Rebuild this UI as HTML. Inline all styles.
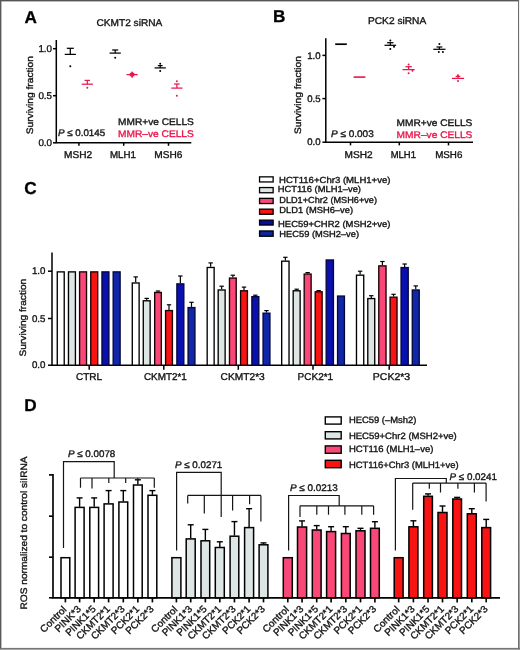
<!DOCTYPE html>
<html lang="en">
<head>
<meta charset="utf-8">
<title>Figure</title>
<style>
html,body{margin:0;padding:0;background:#fff;}
body{width:520px;height:650px;overflow:hidden;}
svg{display:block;}
svg text{font-family:"Liberation Sans", sans-serif;text-rendering:geometricPrecision;}
</style>
</head>
<body>
<svg width="520" height="650" viewBox="0 0 520 650">
<rect x="0" y="0" width="520" height="650" fill="#fff"/>
<text x="24.4" y="22.7" font-size="17.2" fill="#000" font-weight="bold" stroke="#000" stroke-width="0.3">A</text>
<text x="273.0" y="22.4" font-size="17.2" fill="#000" font-weight="bold" stroke="#000" stroke-width="0.3">B</text>
<text x="24.2" y="194.4" font-size="17.2" fill="#000" font-weight="bold" stroke="#000" stroke-width="0.3">C</text>
<text x="24.2" y="410.6" font-size="17.2" fill="#000" font-weight="bold" stroke="#000" stroke-width="0.3">D</text>
<text x="96.5" y="26.2" font-size="9.8" fill="#141414" stroke="#141414" stroke-width="0.35" textLength="65.8" lengthAdjust="spacingAndGlyphs">CKMT2 siRNA</text>
<path d="M56.3,40 V142.8 H191.3" stroke="#000" stroke-width="1.5" fill="none"/>
<line x1="53" y1="48.7" x2="56.3" y2="48.7" stroke="#000" stroke-width="1.5"/>
<line x1="53" y1="95.7" x2="56.3" y2="95.7" stroke="#000" stroke-width="1.5"/>
<line x1="53" y1="142.8" x2="56.3" y2="142.8" stroke="#000" stroke-width="1.5"/>
<line x1="78.9" y1="142.8" x2="78.9" y2="145.8" stroke="#000" stroke-width="1.5"/>
<line x1="123.7" y1="142.8" x2="123.7" y2="145.8" stroke="#000" stroke-width="1.5"/>
<line x1="168.5" y1="142.8" x2="168.5" y2="145.8" stroke="#000" stroke-width="1.5"/>
<text x="52" y="52" font-size="9.8" text-anchor="end" fill="#141414" stroke="#141414" stroke-width="0.35">1.0</text>
<text x="52" y="99" font-size="9.8" text-anchor="end" fill="#141414" stroke="#141414" stroke-width="0.35">0.5</text>
<text x="52" y="145.7" font-size="9.8" text-anchor="end" fill="#141414" stroke="#141414" stroke-width="0.35">0.0</text>
<text x="33.4" y="95.2" font-size="9.4" text-anchor="middle" fill="#141414" stroke="#141414" stroke-width="0.35" textLength="78.2" lengthAdjust="spacingAndGlyphs" transform="rotate(-90 33.4 95.2)">Surviving fraction</text>
<text x="64.1" y="158.1" font-size="9.9" fill="#141414" stroke="#141414" stroke-width="0.35" textLength="28.1" lengthAdjust="spacingAndGlyphs">MSH2</text>
<text x="109.9" y="158.1" font-size="9.9" fill="#141414" stroke="#141414" stroke-width="0.35" textLength="26.0" lengthAdjust="spacingAndGlyphs">MLH1</text>
<text x="154.3" y="158.1" font-size="9.9" fill="#141414" stroke="#141414" stroke-width="0.35" textLength="28.1" lengthAdjust="spacingAndGlyphs">MSH6</text>
<text x="57.9" y="136.4" font-size="9.6" textLength="47.3" lengthAdjust="spacingAndGlyphs" fill="#141414" stroke="#141414" stroke-width="0.35"><tspan font-style="italic">P</tspan> ≤ 0.0145</text>
<text x="118.0" y="124.6" font-size="9.6" fill="#141414" stroke="#141414" stroke-width="0.35" textLength="75.8" lengthAdjust="spacingAndGlyphs">MMR+ve CELLS</text>
<text x="118.0" y="136.6" font-size="9.6" fill="#e8174b" stroke="#e8174b" stroke-width="0.35" textLength="75.8" lengthAdjust="spacingAndGlyphs">MMR–ve CELLS</text>
<line x1="64.7" y1="54.4" x2="75.89999999999999" y2="54.4" stroke="#000" stroke-width="1.25"/>
<line x1="66.8" y1="48.3" x2="73.8" y2="48.3" stroke="#000" stroke-width="1.25"/>
<line x1="70.3" y1="48.3" x2="70.3" y2="54.4" stroke="#000" stroke-width="1.25"/>
<circle cx="70.3" cy="66.2" r="1.0" fill="#000"/>
<line x1="81.7" y1="84.2" x2="92.89999999999999" y2="84.2" stroke="#e8174b" stroke-width="1.25"/>
<line x1="84.6" y1="80.4" x2="90.0" y2="80.4" stroke="#e8174b" stroke-width="1.25"/>
<line x1="87.3" y1="80.4" x2="87.3" y2="84.2" stroke="#e8174b" stroke-width="1.25"/>
<circle cx="87.3" cy="87.7" r="1.0" fill="#e8174b"/>
<line x1="109.60000000000001" y1="53.1" x2="120.8" y2="53.1" stroke="#000" stroke-width="1.25"/>
<line x1="112.2" y1="50.0" x2="118.2" y2="50.0" stroke="#000" stroke-width="1.25"/>
<line x1="115.2" y1="50.0" x2="115.2" y2="53.1" stroke="#000" stroke-width="1.25"/>
<circle cx="115.2" cy="57.7" r="1.0" fill="#000"/>
<line x1="126.5" y1="74.6" x2="137.7" y2="74.6" stroke="#e8174b" stroke-width="1.25"/>
<line x1="129.79999999999998" y1="73.5" x2="134.4" y2="73.5" stroke="#e8174b" stroke-width="1.25"/>
<line x1="132.1" y1="73.5" x2="132.1" y2="74.6" stroke="#e8174b" stroke-width="1.25"/>
<line x1="129.79999999999998" y1="75.7" x2="134.4" y2="75.7" stroke="#e8174b" stroke-width="1.25"/>
<line x1="132.1" y1="75.7" x2="132.1" y2="74.6" stroke="#e8174b" stroke-width="1.25"/>
<circle cx="132.1" cy="72.5" r="1.0" fill="#e8174b"/>
<circle cx="132.1" cy="76.7" r="1.0" fill="#e8174b"/>
<line x1="154.6" y1="67.9" x2="165.79999999999998" y2="67.9" stroke="#000" stroke-width="1.25"/>
<line x1="157.79999999999998" y1="65.6" x2="162.6" y2="65.6" stroke="#000" stroke-width="1.25"/>
<line x1="160.2" y1="65.6" x2="160.2" y2="67.9" stroke="#000" stroke-width="1.25"/>
<circle cx="160.2" cy="63.8" r="1.0" fill="#000"/>
<circle cx="160.2" cy="71.0" r="1.0" fill="#000"/>
<line x1="171.3" y1="88.1" x2="182.5" y2="88.1" stroke="#e8174b" stroke-width="1.25"/>
<line x1="174.1" y1="84.0" x2="179.70000000000002" y2="84.0" stroke="#e8174b" stroke-width="1.25"/>
<line x1="176.9" y1="84.0" x2="176.9" y2="88.1" stroke="#e8174b" stroke-width="1.25"/>
<circle cx="176.9" cy="81.2" r="1.0" fill="#e8174b"/>
<circle cx="176.9" cy="95.8" r="1.0" fill="#e8174b"/>
<text x="368" y="23.8" font-size="9.8" fill="#141414" stroke="#141414" stroke-width="0.35" textLength="58.2" lengthAdjust="spacingAndGlyphs">PCK2 siRNA</text>
<path d="M325.8,38.3 V142.2 H473" stroke="#000" stroke-width="1.5" fill="none"/>
<line x1="322.4" y1="55.4" x2="325.8" y2="55.4" stroke="#000" stroke-width="1.5"/>
<line x1="322.4" y1="98.6" x2="325.8" y2="98.6" stroke="#000" stroke-width="1.5"/>
<line x1="322.4" y1="142.2" x2="325.8" y2="142.2" stroke="#000" stroke-width="1.5"/>
<line x1="350.5" y1="142.2" x2="350.5" y2="145.4" stroke="#000" stroke-width="1.5"/>
<line x1="399.3" y1="142.2" x2="399.3" y2="145.4" stroke="#000" stroke-width="1.5"/>
<line x1="448.5" y1="142.2" x2="448.5" y2="145.4" stroke="#000" stroke-width="1.5"/>
<text x="320.6" y="58.9" font-size="9.6" text-anchor="end" fill="#141414" stroke="#141414" stroke-width="0.35">1.0</text>
<text x="320.6" y="102" font-size="9.6" text-anchor="end" fill="#141414" stroke="#141414" stroke-width="0.35">0.5</text>
<text x="320.6" y="145.2" font-size="9.6" text-anchor="end" fill="#141414" stroke="#141414" stroke-width="0.35">0.0</text>
<text x="301.2" y="95" font-size="9.4" text-anchor="middle" fill="#141414" stroke="#141414" stroke-width="0.35" textLength="77.8" lengthAdjust="spacingAndGlyphs" transform="rotate(-90 301.2 95)">Surviving fraction</text>
<text x="344.5" y="158.2" font-size="9.8" fill="#141414" stroke="#141414" stroke-width="0.35" textLength="28.1" lengthAdjust="spacingAndGlyphs">MSH2</text>
<text x="390.7" y="158.2" font-size="9.8" fill="#141414" stroke="#141414" stroke-width="0.35" textLength="25.2" lengthAdjust="spacingAndGlyphs">MLH1</text>
<text x="435.2" y="158.2" font-size="9.8" fill="#141414" stroke="#141414" stroke-width="0.35" textLength="27.2" lengthAdjust="spacingAndGlyphs">MSH6</text>
<text x="331.0" y="136.8" font-size="9.6" textLength="42.7" lengthAdjust="spacingAndGlyphs" fill="#141414" stroke="#141414" stroke-width="0.35"><tspan font-style="italic">P</tspan> ≤ 0.003</text>
<text x="396.6" y="125.6" font-size="9.6" fill="#141414" stroke="#141414" stroke-width="0.35" textLength="75.8" lengthAdjust="spacingAndGlyphs">MMR+ve CELLS</text>
<text x="396.6" y="137.7" font-size="9.6" fill="#e8174b" stroke="#e8174b" stroke-width="0.35" textLength="75.8" lengthAdjust="spacingAndGlyphs">MMR–ve CELLS</text>
<line x1="335.2" y1="44.2" x2="346.8" y2="44.2" stroke="#000" stroke-width="1.7"/>
<line x1="353.6" y1="77.1" x2="365.4" y2="77.1" stroke="#e8174b" stroke-width="1.6"/>
<line x1="384.5" y1="45.3" x2="396.1" y2="45.3" stroke="#000" stroke-width="1.25"/>
<line x1="387.1" y1="42.7" x2="393.5" y2="42.7" stroke="#000" stroke-width="1.25"/>
<line x1="390.3" y1="42.7" x2="390.3" y2="45.3" stroke="#000" stroke-width="1.25"/>
<circle cx="390.3" cy="40.6" r="1.0" fill="#000"/>
<circle cx="390.3" cy="49.0" r="1.0" fill="#000"/>
<circle cx="394" cy="46.7" r="1.0" fill="#000"/>
<line x1="402.5" y1="69.6" x2="414.70000000000005" y2="69.6" stroke="#e8174b" stroke-width="1.25"/>
<line x1="405.40000000000003" y1="66.7" x2="411.8" y2="66.7" stroke="#e8174b" stroke-width="1.25"/>
<line x1="408.6" y1="66.7" x2="408.6" y2="69.6" stroke="#e8174b" stroke-width="1.25"/>
<circle cx="408.6" cy="64.6" r="1.0" fill="#e8174b"/>
<circle cx="408.6" cy="73.3" r="1.0" fill="#e8174b"/>
<circle cx="412.5" cy="70.8" r="1.0" fill="#e8174b"/>
<line x1="433.29999999999995" y1="49.3" x2="445.5" y2="49.3" stroke="#000" stroke-width="1.25"/>
<line x1="436.5" y1="47.0" x2="442.29999999999995" y2="47.0" stroke="#000" stroke-width="1.25"/>
<line x1="439.4" y1="47.0" x2="439.4" y2="49.3" stroke="#000" stroke-width="1.25"/>
<circle cx="439.4" cy="44.0" r="1.0" fill="#000"/>
<circle cx="438.8" cy="52.0" r="1.0" fill="#000"/>
<circle cx="442.9" cy="52.0" r="1.0" fill="#000"/>
<line x1="451.9" y1="78.4" x2="464.1" y2="78.4" stroke="#e8174b" stroke-width="1.25"/>
<line x1="455.6" y1="76.4" x2="460.4" y2="76.4" stroke="#e8174b" stroke-width="1.25"/>
<line x1="458" y1="76.4" x2="458" y2="78.4" stroke="#e8174b" stroke-width="1.25"/>
<circle cx="458" cy="75.2" r="1.0" fill="#e8174b"/>
<circle cx="458" cy="81.0" r="1.0" fill="#e8174b"/>
<rect x="259.55" y="176.85" width="13.60" height="5.10" fill="#ffffff" stroke="#000" stroke-width="1.3"/>
<rect x="259.55" y="187.55" width="13.60" height="5.20" fill="#dde6e4" stroke="#000" stroke-width="1.3"/>
<rect x="259.55" y="198.35" width="13.60" height="5.20" fill="#f94877" stroke="#000" stroke-width="1.3"/>
<rect x="259.55" y="209.15" width="13.60" height="5.10" fill="#f91414" stroke="#000" stroke-width="1.3"/>
<rect x="259.55" y="220.15" width="13.60" height="4.90" fill="#0a0e9e" stroke="#000" stroke-width="1.3"/>
<rect x="259.55" y="230.95" width="13.60" height="5.30" fill="#10249c" stroke="#000" stroke-width="1.3"/>
<text x="279" y="182.6" font-size="8.8" fill="#141414" stroke="#141414" stroke-width="0.35" textLength="111.5" lengthAdjust="spacingAndGlyphs">HCT116+Chr3 (MLH1+ve)</text>
<text x="277.7" y="192.1" font-size="8.8" fill="#141414" stroke="#141414" stroke-width="0.35" textLength="83.3" lengthAdjust="spacingAndGlyphs">HCT116 (MLH1–ve)</text>
<text x="279.3" y="203.3" font-size="8.8" fill="#141414" stroke="#141414" stroke-width="0.35" textLength="97.7" lengthAdjust="spacingAndGlyphs">DLD1+Chr2 (MSH6+ve)</text>
<text x="279.3" y="213.1" font-size="8.8" fill="#141414" stroke="#141414" stroke-width="0.35" textLength="73.7" lengthAdjust="spacingAndGlyphs">DLD1 (MSH6–ve)</text>
<text x="278" y="227.0" font-size="8.8" fill="#141414" stroke="#141414" stroke-width="0.35" textLength="112.5" lengthAdjust="spacingAndGlyphs">HEC59+CHR2 (MSH2+ve)</text>
<text x="279.3" y="237.2" font-size="8.8" fill="#141414" stroke="#141414" stroke-width="0.35" textLength="79.7" lengthAdjust="spacingAndGlyphs">HEC59 (MSH2–ve)</text>
<path d="M52.0,252.5 V365.2 H427" stroke="#000" stroke-width="1.5" fill="none"/>
<line x1="48.0" y1="271.2" x2="52.0" y2="271.2" stroke="#000" stroke-width="1.5"/>
<line x1="48.0" y1="318.5" x2="52.0" y2="318.5" stroke="#000" stroke-width="1.5"/>
<line x1="48.0" y1="365.2" x2="52.0" y2="365.2" stroke="#000" stroke-width="1.5"/>
<line x1="89.2" y1="365.2" x2="89.2" y2="369.8" stroke="#000" stroke-width="1.5"/>
<line x1="163.8" y1="365.2" x2="163.8" y2="369.8" stroke="#000" stroke-width="1.5"/>
<line x1="238.3" y1="365.2" x2="238.3" y2="369.8" stroke="#000" stroke-width="1.5"/>
<line x1="313" y1="365.2" x2="313" y2="369.8" stroke="#000" stroke-width="1.5"/>
<line x1="389.2" y1="365.2" x2="389.2" y2="369.8" stroke="#000" stroke-width="1.5"/>
<text x="45.4" y="274.4" font-size="9.7" text-anchor="end" fill="#141414" stroke="#141414" stroke-width="0.35">1.0</text>
<text x="45.4" y="321.5" font-size="9.7" text-anchor="end" fill="#141414" stroke="#141414" stroke-width="0.35">0.5</text>
<text x="45.4" y="368.2" font-size="9.7" text-anchor="end" fill="#141414" stroke="#141414" stroke-width="0.35">0.0</text>
<text x="26.4" y="317.6" font-size="9.4" text-anchor="middle" fill="#141414" stroke="#141414" stroke-width="0.35" textLength="77.6" lengthAdjust="spacingAndGlyphs" transform="rotate(-90 26.4 317.6)">Surviving fraction</text>
<text x="76.0" y="380.4" font-size="9.9" fill="#141414" stroke="#141414" stroke-width="0.35" textLength="26.2" lengthAdjust="spacingAndGlyphs">CTRL</text>
<text x="143.9" y="380.4" font-size="9.9" fill="#141414" stroke="#141414" stroke-width="0.35" textLength="43.0" lengthAdjust="spacingAndGlyphs">CKMT2*1</text>
<text x="220.6" y="380.4" font-size="9.9" fill="#141414" stroke="#141414" stroke-width="0.35" textLength="44.2" lengthAdjust="spacingAndGlyphs">CKMT2*3</text>
<text x="297.6" y="380.4" font-size="9.9" fill="#141414" stroke="#141414" stroke-width="0.35" textLength="35.6" lengthAdjust="spacingAndGlyphs">PCK2*1</text>
<text x="372.8" y="380.4" font-size="9.9" fill="#141414" stroke="#141414" stroke-width="0.35" textLength="37.4" lengthAdjust="spacingAndGlyphs">PCK2*3</text>
<rect x="57.27" y="271.88" width="6.95" height="93.33" fill="#ffffff" stroke="#000" stroke-width="1.35"/>
<rect x="68.47" y="271.88" width="6.95" height="93.33" fill="#dde6e4" stroke="#000" stroke-width="1.35"/>
<rect x="79.58" y="271.88" width="6.95" height="93.33" fill="#f94877" stroke="#1a0004" stroke-width="1.35"/>
<rect x="90.77" y="271.88" width="6.95" height="93.33" fill="#f91414" stroke="#1a0004" stroke-width="1.35"/>
<rect x="101.97" y="271.88" width="6.95" height="93.33" fill="#0a10b0" stroke="#04063c" stroke-width="1.35"/>
<rect x="113.17" y="271.88" width="6.95" height="93.33" fill="#1028a8" stroke="#04063c" stroke-width="1.35"/>
<line x1="135.7" y1="276.9" x2="135.7" y2="282.3" stroke="#000" stroke-width="1.2"/>
<line x1="133.5" y1="276.9" x2="137.89999999999998" y2="276.9" stroke="#000" stroke-width="1.2"/>
<rect x="132.28" y="282.98" width="6.85" height="82.22" fill="#ffffff" stroke="#000" stroke-width="1.35"/>
<line x1="146.7" y1="298.4" x2="146.7" y2="300.1" stroke="#000" stroke-width="1.2"/>
<line x1="144.5" y1="298.4" x2="148.89999999999998" y2="298.4" stroke="#000" stroke-width="1.2"/>
<rect x="143.28" y="300.78" width="6.85" height="64.42" fill="#dde6e4" stroke="#000" stroke-width="1.35"/>
<line x1="158.0" y1="291.0" x2="158.0" y2="291.8" stroke="#000" stroke-width="1.2"/>
<line x1="155.8" y1="291.0" x2="160.2" y2="291.0" stroke="#000" stroke-width="1.2"/>
<rect x="154.68" y="292.48" width="6.65" height="72.72" fill="#f94877" stroke="#1a0004" stroke-width="1.35"/>
<line x1="169.0" y1="304.8" x2="169.0" y2="309.9" stroke="#000" stroke-width="1.2"/>
<line x1="166.8" y1="304.8" x2="171.2" y2="304.8" stroke="#000" stroke-width="1.2"/>
<rect x="165.58" y="310.57" width="6.85" height="54.63" fill="#f91414" stroke="#1a0004" stroke-width="1.35"/>
<line x1="180.35" y1="276.0" x2="180.35" y2="283.2" stroke="#000" stroke-width="1.2"/>
<line x1="178.15" y1="276.0" x2="182.54999999999998" y2="276.0" stroke="#000" stroke-width="1.2"/>
<rect x="176.88" y="283.88" width="6.95" height="81.33" fill="#0a10b0" stroke="#04063c" stroke-width="1.35"/>
<line x1="191.5" y1="302.3" x2="191.5" y2="306.9" stroke="#000" stroke-width="1.2"/>
<line x1="189.3" y1="302.3" x2="193.7" y2="302.3" stroke="#000" stroke-width="1.2"/>
<rect x="188.08" y="307.57" width="6.85" height="57.63" fill="#1028a8" stroke="#04063c" stroke-width="1.35"/>
<line x1="210.65" y1="262.9" x2="210.65" y2="266.8" stroke="#000" stroke-width="1.2"/>
<line x1="208.45000000000002" y1="262.9" x2="212.85" y2="262.9" stroke="#000" stroke-width="1.2"/>
<rect x="207.18" y="267.48" width="6.95" height="97.72" fill="#ffffff" stroke="#000" stroke-width="1.35"/>
<line x1="221.65" y1="286.2" x2="221.65" y2="289.3" stroke="#000" stroke-width="1.2"/>
<line x1="219.45000000000002" y1="286.2" x2="223.85" y2="286.2" stroke="#000" stroke-width="1.2"/>
<rect x="218.18" y="289.98" width="6.95" height="75.22" fill="#dde6e4" stroke="#000" stroke-width="1.35"/>
<line x1="232.85000000000002" y1="275.2" x2="232.85000000000002" y2="277.4" stroke="#000" stroke-width="1.2"/>
<line x1="230.65000000000003" y1="275.2" x2="235.05" y2="275.2" stroke="#000" stroke-width="1.2"/>
<rect x="229.48" y="278.07" width="6.75" height="87.13" fill="#f94877" stroke="#1a0004" stroke-width="1.35"/>
<line x1="244.0" y1="287.1" x2="244.0" y2="290.1" stroke="#000" stroke-width="1.2"/>
<line x1="241.8" y1="287.1" x2="246.2" y2="287.1" stroke="#000" stroke-width="1.2"/>
<rect x="240.58" y="290.78" width="6.85" height="74.42" fill="#f91414" stroke="#1a0004" stroke-width="1.35"/>
<line x1="255.35" y1="295.2" x2="255.35" y2="296.0" stroke="#000" stroke-width="1.2"/>
<line x1="253.15" y1="295.2" x2="257.55" y2="295.2" stroke="#000" stroke-width="1.2"/>
<rect x="251.88" y="296.68" width="6.95" height="68.52" fill="#0a10b0" stroke="#04063c" stroke-width="1.35"/>
<line x1="266.5" y1="310.6" x2="266.5" y2="312.5" stroke="#000" stroke-width="1.2"/>
<line x1="264.3" y1="310.6" x2="268.7" y2="310.6" stroke="#000" stroke-width="1.2"/>
<rect x="263.07" y="313.18" width="6.85" height="52.02" fill="#1028a8" stroke="#04063c" stroke-width="1.35"/>
<line x1="285.35" y1="257.3" x2="285.35" y2="260.5" stroke="#000" stroke-width="1.2"/>
<line x1="283.15000000000003" y1="257.3" x2="287.55" y2="257.3" stroke="#000" stroke-width="1.2"/>
<rect x="281.68" y="261.18" width="7.35" height="104.02" fill="#ffffff" stroke="#000" stroke-width="1.35"/>
<line x1="296.65" y1="289.2" x2="296.65" y2="290.1" stroke="#000" stroke-width="1.2"/>
<line x1="294.45" y1="289.2" x2="298.84999999999997" y2="289.2" stroke="#000" stroke-width="1.2"/>
<rect x="293.18" y="290.78" width="6.95" height="74.42" fill="#dde6e4" stroke="#000" stroke-width="1.35"/>
<line x1="307.65" y1="272.6" x2="307.65" y2="273.4" stroke="#000" stroke-width="1.2"/>
<line x1="305.45" y1="272.6" x2="309.84999999999997" y2="272.6" stroke="#000" stroke-width="1.2"/>
<rect x="304.18" y="274.07" width="6.95" height="91.13" fill="#f94877" stroke="#1a0004" stroke-width="1.35"/>
<line x1="318.65" y1="290.6" x2="318.65" y2="291.1" stroke="#000" stroke-width="1.2"/>
<line x1="316.45" y1="290.6" x2="320.84999999999997" y2="290.6" stroke="#000" stroke-width="1.2"/>
<rect x="315.18" y="291.78" width="6.95" height="73.42" fill="#f91414" stroke="#1a0004" stroke-width="1.35"/>
<rect x="326.18" y="259.98" width="7.25" height="105.22" fill="#0a10b0" stroke="#04063c" stroke-width="1.35"/>
<rect x="337.57" y="296.07" width="6.85" height="69.13" fill="#1028a8" stroke="#04063c" stroke-width="1.35"/>
<line x1="360.1" y1="271.2" x2="360.1" y2="274.5" stroke="#000" stroke-width="1.2"/>
<line x1="357.90000000000003" y1="271.2" x2="362.3" y2="271.2" stroke="#000" stroke-width="1.2"/>
<rect x="356.48" y="275.18" width="7.25" height="90.02" fill="#ffffff" stroke="#000" stroke-width="1.35"/>
<line x1="371.25" y1="295.7" x2="371.25" y2="297.9" stroke="#000" stroke-width="1.2"/>
<line x1="369.05" y1="295.7" x2="373.45" y2="295.7" stroke="#000" stroke-width="1.2"/>
<rect x="367.78" y="298.57" width="6.95" height="66.63" fill="#dde6e4" stroke="#000" stroke-width="1.35"/>
<line x1="382.4" y1="261.5" x2="382.4" y2="265.2" stroke="#000" stroke-width="1.2"/>
<line x1="380.2" y1="261.5" x2="384.59999999999997" y2="261.5" stroke="#000" stroke-width="1.2"/>
<rect x="378.78" y="265.88" width="7.25" height="99.33" fill="#f94877" stroke="#1a0004" stroke-width="1.35"/>
<line x1="393.54999999999995" y1="294.3" x2="393.54999999999995" y2="296.5" stroke="#000" stroke-width="1.2"/>
<line x1="391.34999999999997" y1="294.3" x2="395.74999999999994" y2="294.3" stroke="#000" stroke-width="1.2"/>
<rect x="390.07" y="297.18" width="6.95" height="68.02" fill="#f91414" stroke="#1a0004" stroke-width="1.35"/>
<line x1="404.65" y1="264.0" x2="404.65" y2="266.9" stroke="#000" stroke-width="1.2"/>
<line x1="402.45" y1="264.0" x2="406.84999999999997" y2="264.0" stroke="#000" stroke-width="1.2"/>
<rect x="401.07" y="267.57" width="7.15" height="97.63" fill="#0a10b0" stroke="#04063c" stroke-width="1.35"/>
<line x1="415.75" y1="285.9" x2="415.75" y2="289.3" stroke="#000" stroke-width="1.2"/>
<line x1="413.55" y1="285.9" x2="417.95" y2="285.9" stroke="#000" stroke-width="1.2"/>
<rect x="412.28" y="289.98" width="6.95" height="75.22" fill="#1028a8" stroke="#04063c" stroke-width="1.35"/>
<rect x="325.30" y="416.90" width="15.90" height="7.20" fill="#ffffff" stroke="#000" stroke-width="1.4"/>
<rect x="325.30" y="431.70" width="15.90" height="7.20" fill="#dde6e4" stroke="#000" stroke-width="1.4"/>
<rect x="325.30" y="445.90" width="15.90" height="7.40" fill="#f94877" stroke="#000" stroke-width="1.4"/>
<rect x="325.30" y="460.30" width="15.90" height="7.40" fill="#f91414" stroke="#000" stroke-width="1.4"/>
<text x="348.9" y="423.3" font-size="9.2" fill="#141414" stroke="#141414" stroke-width="0.35" textLength="67.5" lengthAdjust="spacingAndGlyphs">HEC59 (–Msh2)</text>
<text x="348.9" y="439.2" font-size="9.2" fill="#141414" stroke="#141414" stroke-width="0.35" textLength="107.9" lengthAdjust="spacingAndGlyphs">HEC59+Chr2 (MSH2+ve)</text>
<text x="348.9" y="452.3" font-size="9.2" fill="#141414" stroke="#141414" stroke-width="0.35" textLength="84.5" lengthAdjust="spacingAndGlyphs">HCT116 (MLH1–ve)</text>
<text x="348.9" y="467.7" font-size="9.2" fill="#141414" stroke="#141414" stroke-width="0.35" textLength="109.8" lengthAdjust="spacingAndGlyphs">HCT116+Chr3 (MLH1+ve)</text>
<path d="M53,474.1 V597.8 H500" stroke="#000" stroke-width="1.65" fill="none"/>
<line x1="49" y1="597.8" x2="53" y2="597.8" stroke="#000" stroke-width="1.65"/>
<line x1="49" y1="474.9" x2="53" y2="474.9" stroke="#000" stroke-width="1.65"/>
<line x1="49" y1="516.2" x2="53" y2="516.2" stroke="#000" stroke-width="1.65"/>
<line x1="49" y1="557.2" x2="53" y2="557.2" stroke="#000" stroke-width="1.65"/>
<text x="27.3" y="533" font-size="9.4" text-anchor="middle" fill="#141414" stroke="#141414" stroke-width="0.35" textLength="153" lengthAdjust="spacingAndGlyphs" transform="rotate(-90 27.3 533)">ROS normalized to control siIRNA</text>
<rect x="61.00" y="557.70" width="8.80" height="40.10" fill="#ffffff" stroke="#000" stroke-width="1.5"/>
<line x1="65.4" y1="597.8" x2="65.4" y2="602.4" stroke="#000" stroke-width="1.65"/>
<text x="67.1" y="610.1" font-size="9.9" text-anchor="end" fill="#141414" stroke="#141414" stroke-width="0.35" textLength="32.6" lengthAdjust="spacingAndGlyphs" transform="rotate(-45 67.1 610.1)">Control</text>
<line x1="79.6" y1="497.9" x2="79.6" y2="506.8" stroke="#000" stroke-width="1.4"/>
<line x1="76.6" y1="497.9" x2="82.6" y2="497.9" stroke="#000" stroke-width="1.4"/>
<rect x="75.10" y="507.40" width="9.00" height="90.40" fill="#ffffff" stroke="#000" stroke-width="1.5"/>
<line x1="79.6" y1="597.8" x2="79.6" y2="602.4" stroke="#000" stroke-width="1.65"/>
<text x="81.7" y="609.7" font-size="9.9" text-anchor="end" fill="#141414" stroke="#141414" stroke-width="0.35" textLength="32.5" lengthAdjust="spacingAndGlyphs" transform="rotate(-45 81.7 609.7)">PINK*3</text>
<line x1="94.2" y1="497.9" x2="94.2" y2="506.8" stroke="#000" stroke-width="1.4"/>
<line x1="91.2" y1="497.9" x2="97.2" y2="497.9" stroke="#000" stroke-width="1.4"/>
<rect x="89.80" y="507.40" width="8.80" height="90.40" fill="#ffffff" stroke="#000" stroke-width="1.5"/>
<line x1="94.2" y1="597.8" x2="94.2" y2="602.4" stroke="#000" stroke-width="1.65"/>
<text x="96.3" y="609.7" font-size="9.9" text-anchor="end" fill="#141414" stroke="#141414" stroke-width="0.35" textLength="38.0" lengthAdjust="spacingAndGlyphs" transform="rotate(-45 96.3 609.7)">PINK1*5</text>
<line x1="108.6" y1="490.6" x2="108.6" y2="503.3" stroke="#000" stroke-width="1.4"/>
<line x1="105.6" y1="490.6" x2="111.6" y2="490.6" stroke="#000" stroke-width="1.4"/>
<rect x="104.10" y="503.90" width="9.00" height="93.90" fill="#ffffff" stroke="#000" stroke-width="1.5"/>
<line x1="108.6" y1="597.8" x2="108.6" y2="602.4" stroke="#000" stroke-width="1.65"/>
<text x="110.7" y="609.7" font-size="9.9" text-anchor="end" fill="#141414" stroke="#141414" stroke-width="0.35" textLength="43.0" lengthAdjust="spacingAndGlyphs" transform="rotate(-45 110.7 609.7)">CKMT2*1</text>
<line x1="123.30000000000001" y1="490.6" x2="123.30000000000001" y2="501.4" stroke="#000" stroke-width="1.4"/>
<line x1="120.30000000000001" y1="490.6" x2="126.30000000000001" y2="490.6" stroke="#000" stroke-width="1.4"/>
<rect x="118.90" y="502.00" width="8.80" height="95.80" fill="#ffffff" stroke="#000" stroke-width="1.5"/>
<line x1="123.30000000000001" y1="597.8" x2="123.30000000000001" y2="602.4" stroke="#000" stroke-width="1.65"/>
<text x="125.4" y="609.7" font-size="9.9" text-anchor="end" fill="#141414" stroke="#141414" stroke-width="0.35" textLength="43.0" lengthAdjust="spacingAndGlyphs" transform="rotate(-45 125.4 609.7)">CKMT2*3</text>
<line x1="137.85000000000002" y1="479.8" x2="137.85000000000002" y2="484.4" stroke="#000" stroke-width="1.4"/>
<line x1="134.85000000000002" y1="479.8" x2="140.85000000000002" y2="479.8" stroke="#000" stroke-width="1.4"/>
<rect x="133.50" y="485.00" width="8.70" height="112.80" fill="#ffffff" stroke="#000" stroke-width="1.5"/>
<line x1="137.85000000000002" y1="597.8" x2="137.85000000000002" y2="602.4" stroke="#000" stroke-width="1.65"/>
<text x="140.0" y="609.7" font-size="9.9" text-anchor="end" fill="#141414" stroke="#141414" stroke-width="0.35" textLength="35.3" lengthAdjust="spacingAndGlyphs" transform="rotate(-45 140.0 609.7)">PCK2*1</text>
<line x1="152.4" y1="490.6" x2="152.4" y2="494.7" stroke="#000" stroke-width="1.4"/>
<line x1="149.4" y1="490.6" x2="155.4" y2="490.6" stroke="#000" stroke-width="1.4"/>
<rect x="148.00" y="495.30" width="8.80" height="102.50" fill="#ffffff" stroke="#000" stroke-width="1.5"/>
<line x1="152.4" y1="597.8" x2="152.4" y2="602.4" stroke="#000" stroke-width="1.65"/>
<text x="154.5" y="609.7" font-size="9.9" text-anchor="end" fill="#141414" stroke="#141414" stroke-width="0.35" textLength="35.3" lengthAdjust="spacingAndGlyphs" transform="rotate(-45 154.5 609.7)">PCK2*3</text>
<rect x="171.90" y="557.70" width="9.00" height="40.10" fill="#dde6e4" stroke="#000" stroke-width="1.5"/>
<line x1="176.4" y1="597.8" x2="176.4" y2="602.4" stroke="#000" stroke-width="1.65"/>
<text x="178.1" y="610.1" font-size="9.9" text-anchor="end" fill="#141414" stroke="#141414" stroke-width="0.35" textLength="32.6" lengthAdjust="spacingAndGlyphs" transform="rotate(-45 178.1 610.1)">Control</text>
<line x1="190.7" y1="524.8" x2="190.7" y2="538.3" stroke="#000" stroke-width="1.4"/>
<line x1="187.7" y1="524.8" x2="193.7" y2="524.8" stroke="#000" stroke-width="1.4"/>
<rect x="186.20" y="538.90" width="9.00" height="58.90" fill="#dde6e4" stroke="#000" stroke-width="1.5"/>
<line x1="190.7" y1="597.8" x2="190.7" y2="602.4" stroke="#000" stroke-width="1.65"/>
<text x="192.8" y="609.7" font-size="9.9" text-anchor="end" fill="#141414" stroke="#141414" stroke-width="0.35" textLength="38.0" lengthAdjust="spacingAndGlyphs" transform="rotate(-45 192.8 609.7)">PINK1*3</text>
<line x1="205.35000000000002" y1="529.4" x2="205.35000000000002" y2="540.2" stroke="#000" stroke-width="1.4"/>
<line x1="202.35000000000002" y1="529.4" x2="208.35000000000002" y2="529.4" stroke="#000" stroke-width="1.4"/>
<rect x="201.00" y="540.80" width="8.70" height="57.00" fill="#dde6e4" stroke="#000" stroke-width="1.5"/>
<line x1="205.35000000000002" y1="597.8" x2="205.35000000000002" y2="602.4" stroke="#000" stroke-width="1.65"/>
<text x="207.5" y="609.7" font-size="9.9" text-anchor="end" fill="#141414" stroke="#141414" stroke-width="0.35" textLength="38.0" lengthAdjust="spacingAndGlyphs" transform="rotate(-45 207.5 609.7)">PINK1*5</text>
<line x1="219.8" y1="541.8" x2="219.8" y2="546.9" stroke="#000" stroke-width="1.4"/>
<line x1="216.8" y1="541.8" x2="222.8" y2="541.8" stroke="#000" stroke-width="1.4"/>
<rect x="215.30" y="547.50" width="9.00" height="50.30" fill="#dde6e4" stroke="#000" stroke-width="1.5"/>
<line x1="219.8" y1="597.8" x2="219.8" y2="602.4" stroke="#000" stroke-width="1.65"/>
<text x="221.9" y="609.7" font-size="9.9" text-anchor="end" fill="#141414" stroke="#141414" stroke-width="0.35" textLength="43.0" lengthAdjust="spacingAndGlyphs" transform="rotate(-45 221.9 609.7)">CKMT2*1</text>
<line x1="234.45" y1="521.6" x2="234.45" y2="535.6" stroke="#000" stroke-width="1.4"/>
<line x1="231.45" y1="521.6" x2="237.45" y2="521.6" stroke="#000" stroke-width="1.4"/>
<rect x="230.10" y="536.20" width="8.70" height="61.60" fill="#dde6e4" stroke="#000" stroke-width="1.5"/>
<line x1="234.45" y1="597.8" x2="234.45" y2="602.4" stroke="#000" stroke-width="1.65"/>
<text x="236.5" y="609.7" font-size="9.9" text-anchor="end" fill="#141414" stroke="#141414" stroke-width="0.35" textLength="43.0" lengthAdjust="spacingAndGlyphs" transform="rotate(-45 236.5 609.7)">CKMT2*3</text>
<line x1="249.1" y1="508.7" x2="249.1" y2="527.0" stroke="#000" stroke-width="1.4"/>
<line x1="246.1" y1="508.7" x2="252.1" y2="508.7" stroke="#000" stroke-width="1.4"/>
<rect x="244.60" y="527.60" width="9.00" height="70.20" fill="#dde6e4" stroke="#000" stroke-width="1.5"/>
<line x1="249.1" y1="597.8" x2="249.1" y2="602.4" stroke="#000" stroke-width="1.65"/>
<text x="251.2" y="609.7" font-size="9.9" text-anchor="end" fill="#141414" stroke="#141414" stroke-width="0.35" textLength="35.3" lengthAdjust="spacingAndGlyphs" transform="rotate(-45 251.2 609.7)">PCK2*1</text>
<line x1="263.5" y1="542.9" x2="263.5" y2="544.2" stroke="#000" stroke-width="1.4"/>
<line x1="260.5" y1="542.9" x2="266.5" y2="542.9" stroke="#000" stroke-width="1.4"/>
<rect x="259.10" y="544.80" width="8.80" height="53.00" fill="#dde6e4" stroke="#000" stroke-width="1.5"/>
<line x1="263.5" y1="597.8" x2="263.5" y2="602.4" stroke="#000" stroke-width="1.65"/>
<text x="265.6" y="609.7" font-size="9.9" text-anchor="end" fill="#141414" stroke="#141414" stroke-width="0.35" textLength="35.3" lengthAdjust="spacingAndGlyphs" transform="rotate(-45 265.6 609.7)">PCK2*3</text>
<rect x="283.30" y="557.70" width="9.00" height="40.10" fill="#f94877" stroke="#000" stroke-width="1.5"/>
<line x1="287.79999999999995" y1="597.8" x2="287.79999999999995" y2="602.4" stroke="#000" stroke-width="1.65"/>
<text x="289.5" y="610.1" font-size="9.9" text-anchor="end" fill="#141414" stroke="#141414" stroke-width="0.35" textLength="32.6" lengthAdjust="spacingAndGlyphs" transform="rotate(-45 289.5 610.1)">Control</text>
<line x1="302.04999999999995" y1="520.9" x2="302.04999999999995" y2="526.4" stroke="#000" stroke-width="1.4"/>
<line x1="299.04999999999995" y1="520.9" x2="305.04999999999995" y2="520.9" stroke="#000" stroke-width="1.4"/>
<rect x="297.50" y="527.00" width="9.10" height="70.80" fill="#f94877" stroke="#000" stroke-width="1.5"/>
<line x1="302.04999999999995" y1="597.8" x2="302.04999999999995" y2="602.4" stroke="#000" stroke-width="1.65"/>
<text x="304.1" y="609.7" font-size="9.9" text-anchor="end" fill="#141414" stroke="#141414" stroke-width="0.35" textLength="38.0" lengthAdjust="spacingAndGlyphs" transform="rotate(-45 304.1 609.7)">PINK1*3</text>
<line x1="316.7" y1="525.6" x2="316.7" y2="529.4" stroke="#000" stroke-width="1.4"/>
<line x1="313.7" y1="525.6" x2="319.7" y2="525.6" stroke="#000" stroke-width="1.4"/>
<rect x="312.30" y="530.00" width="8.80" height="67.80" fill="#f94877" stroke="#000" stroke-width="1.5"/>
<line x1="316.7" y1="597.8" x2="316.7" y2="602.4" stroke="#000" stroke-width="1.65"/>
<text x="318.8" y="609.7" font-size="9.9" text-anchor="end" fill="#141414" stroke="#141414" stroke-width="0.35" textLength="38.0" lengthAdjust="spacingAndGlyphs" transform="rotate(-45 318.8 609.7)">PINK1*5</text>
<line x1="331.1" y1="526.7" x2="331.1" y2="531.0" stroke="#000" stroke-width="1.4"/>
<line x1="328.1" y1="526.7" x2="334.1" y2="526.7" stroke="#000" stroke-width="1.4"/>
<rect x="326.60" y="531.60" width="9.00" height="66.20" fill="#f94877" stroke="#000" stroke-width="1.5"/>
<line x1="331.1" y1="597.8" x2="331.1" y2="602.4" stroke="#000" stroke-width="1.65"/>
<text x="333.2" y="609.7" font-size="9.9" text-anchor="end" fill="#141414" stroke="#141414" stroke-width="0.35" textLength="43.0" lengthAdjust="spacingAndGlyphs" transform="rotate(-45 333.2 609.7)">CKMT2*1</text>
<line x1="345.8" y1="526.7" x2="345.8" y2="532.9" stroke="#000" stroke-width="1.4"/>
<line x1="342.8" y1="526.7" x2="348.8" y2="526.7" stroke="#000" stroke-width="1.4"/>
<rect x="341.40" y="533.50" width="8.80" height="64.30" fill="#f94877" stroke="#000" stroke-width="1.5"/>
<line x1="345.8" y1="597.8" x2="345.8" y2="602.4" stroke="#000" stroke-width="1.65"/>
<text x="347.9" y="609.7" font-size="9.9" text-anchor="end" fill="#141414" stroke="#141414" stroke-width="0.35" textLength="43.0" lengthAdjust="spacingAndGlyphs" transform="rotate(-45 347.9 609.7)">CKMT2*3</text>
<line x1="360.5" y1="528.3" x2="360.5" y2="530.2" stroke="#000" stroke-width="1.4"/>
<line x1="357.5" y1="528.3" x2="363.5" y2="528.3" stroke="#000" stroke-width="1.4"/>
<rect x="356.00" y="530.80" width="9.00" height="67.00" fill="#f94877" stroke="#000" stroke-width="1.5"/>
<line x1="360.5" y1="597.8" x2="360.5" y2="602.4" stroke="#000" stroke-width="1.65"/>
<text x="362.6" y="609.7" font-size="9.9" text-anchor="end" fill="#141414" stroke="#141414" stroke-width="0.35" textLength="35.3" lengthAdjust="spacingAndGlyphs" transform="rotate(-45 362.6 609.7)">PCK2*1</text>
<line x1="374.9" y1="521.7" x2="374.9" y2="527.7" stroke="#000" stroke-width="1.4"/>
<line x1="371.9" y1="521.7" x2="377.9" y2="521.7" stroke="#000" stroke-width="1.4"/>
<rect x="370.50" y="528.30" width="8.80" height="69.50" fill="#f94877" stroke="#000" stroke-width="1.5"/>
<line x1="374.9" y1="597.8" x2="374.9" y2="602.4" stroke="#000" stroke-width="1.65"/>
<text x="377.0" y="609.7" font-size="9.9" text-anchor="end" fill="#141414" stroke="#141414" stroke-width="0.35" textLength="35.3" lengthAdjust="spacingAndGlyphs" transform="rotate(-45 377.0 609.7)">PCK2*3</text>
<rect x="394.20" y="557.70" width="8.90" height="40.10" fill="#f91414" stroke="#000" stroke-width="1.5"/>
<line x1="398.65" y1="597.8" x2="398.65" y2="602.4" stroke="#000" stroke-width="1.65"/>
<text x="400.3" y="610.1" font-size="9.9" text-anchor="end" fill="#141414" stroke="#141414" stroke-width="0.35" textLength="32.6" lengthAdjust="spacingAndGlyphs" transform="rotate(-45 400.3 610.1)">Control</text>
<line x1="413.4" y1="520.8" x2="413.4" y2="526.2" stroke="#000" stroke-width="1.4"/>
<line x1="410.4" y1="520.8" x2="416.4" y2="520.8" stroke="#000" stroke-width="1.4"/>
<rect x="408.90" y="526.80" width="9.00" height="71.00" fill="#f91414" stroke="#000" stroke-width="1.5"/>
<line x1="413.4" y1="597.8" x2="413.4" y2="602.4" stroke="#000" stroke-width="1.65"/>
<text x="415.5" y="609.7" font-size="9.9" text-anchor="end" fill="#141414" stroke="#141414" stroke-width="0.35" textLength="38.0" lengthAdjust="spacingAndGlyphs" transform="rotate(-45 415.5 609.7)">PINK1*3</text>
<line x1="428.05" y1="493.9" x2="428.05" y2="495.7" stroke="#000" stroke-width="1.4"/>
<line x1="425.05" y1="493.9" x2="431.05" y2="493.9" stroke="#000" stroke-width="1.4"/>
<rect x="423.70" y="496.30" width="8.70" height="101.50" fill="#f91414" stroke="#000" stroke-width="1.5"/>
<line x1="428.05" y1="597.8" x2="428.05" y2="602.4" stroke="#000" stroke-width="1.65"/>
<text x="430.2" y="609.7" font-size="9.9" text-anchor="end" fill="#141414" stroke="#141414" stroke-width="0.35" textLength="38.0" lengthAdjust="spacingAndGlyphs" transform="rotate(-45 430.2 609.7)">PINK1*5</text>
<line x1="442.5" y1="506.0" x2="442.5" y2="511.9" stroke="#000" stroke-width="1.4"/>
<line x1="439.5" y1="506.0" x2="445.5" y2="506.0" stroke="#000" stroke-width="1.4"/>
<rect x="438.00" y="512.50" width="9.00" height="85.30" fill="#f91414" stroke="#000" stroke-width="1.5"/>
<line x1="442.5" y1="597.8" x2="442.5" y2="602.4" stroke="#000" stroke-width="1.65"/>
<text x="444.6" y="609.7" font-size="9.9" text-anchor="end" fill="#141414" stroke="#141414" stroke-width="0.35" textLength="43.0" lengthAdjust="spacingAndGlyphs" transform="rotate(-45 444.6 609.7)">CKMT2*1</text>
<line x1="457.15" y1="497.4" x2="457.15" y2="498.4" stroke="#000" stroke-width="1.4"/>
<line x1="454.15" y1="497.4" x2="460.15" y2="497.4" stroke="#000" stroke-width="1.4"/>
<rect x="452.80" y="499.00" width="8.70" height="98.80" fill="#f91414" stroke="#000" stroke-width="1.5"/>
<line x1="457.15" y1="597.8" x2="457.15" y2="602.4" stroke="#000" stroke-width="1.65"/>
<text x="459.2" y="609.7" font-size="9.9" text-anchor="end" fill="#141414" stroke="#141414" stroke-width="0.35" textLength="43.0" lengthAdjust="spacingAndGlyphs" transform="rotate(-45 459.2 609.7)">CKMT2*3</text>
<line x1="471.79999999999995" y1="508.7" x2="471.79999999999995" y2="513.2" stroke="#000" stroke-width="1.4"/>
<line x1="468.79999999999995" y1="508.7" x2="474.79999999999995" y2="508.7" stroke="#000" stroke-width="1.4"/>
<rect x="467.30" y="513.80" width="9.00" height="84.00" fill="#f91414" stroke="#000" stroke-width="1.5"/>
<line x1="471.79999999999995" y1="597.8" x2="471.79999999999995" y2="602.4" stroke="#000" stroke-width="1.65"/>
<text x="473.9" y="609.7" font-size="9.9" text-anchor="end" fill="#141414" stroke="#141414" stroke-width="0.35" textLength="35.3" lengthAdjust="spacingAndGlyphs" transform="rotate(-45 473.9 609.7)">PCK2*1</text>
<line x1="486.2" y1="519.4" x2="486.2" y2="527.0" stroke="#000" stroke-width="1.4"/>
<line x1="483.2" y1="519.4" x2="489.2" y2="519.4" stroke="#000" stroke-width="1.4"/>
<rect x="481.80" y="527.60" width="8.80" height="70.20" fill="#f91414" stroke="#000" stroke-width="1.5"/>
<line x1="486.2" y1="597.8" x2="486.2" y2="602.4" stroke="#000" stroke-width="1.65"/>
<text x="488.3" y="609.7" font-size="9.9" text-anchor="end" fill="#141414" stroke="#141414" stroke-width="0.35" textLength="35.3" lengthAdjust="spacingAndGlyphs" transform="rotate(-45 488.3 609.7)">PCK2*3</text>
<path d="M63.5,548 V461.7 H114.2 V478 M80.5,478 H154.3 M80.5,478 V487.7 M92,478 V488.4 M108.8,478 V483 M125.7,478 V483 M137.7,478 V480.8 M154.3,478 V487.7" stroke="#151515" stroke-width="1.2" fill="none"/>
<path d="M176.6,550.4 V472.4 H221.2 V495.4 M187.7,495.4 H260.9 M187.7,495.4 V503.6 M204.3,495.4 V513.6 M221.2,495.4 V516.9 M232.6,495.4 V510.6 M249.6,495.4 V504.2 M260.9,495.4 V521.6" stroke="#151515" stroke-width="1.2" fill="none"/>
<path d="M288.6,550.4 V495.5 H339.2 V505.8 M300,505.8 H373.6 M300,505.8 V516.9 M316.8,505.8 V514.8 M328.5,505.8 V514.8 M344.9,505.8 V514.8 M361.8,505.8 V514.8 M373.6,505.8 V514.8" stroke="#151515" stroke-width="1.2" fill="none"/>
<path d="M395.4,550.4 V478.5 H446.3 V483.1 M412.7,483.1 H486.1 M412.7,483.1 V509.8 M429.3,483.1 V488.7 M440.5,483.1 V492.4 M457.9,483.1 V488.7 M474.4,483.1 V492.4 M486.1,483.1 V501.5" stroke="#151515" stroke-width="1.2" fill="none"/>
<text x="68" y="456.6" font-size="9.6" textLength="47.3" lengthAdjust="spacingAndGlyphs" fill="#141414" stroke="#141414" stroke-width="0.35"><tspan font-style="italic">P</tspan> ≤ 0.0078</text>
<text x="175" y="467.7" font-size="9.6" textLength="47.3" lengthAdjust="spacingAndGlyphs" fill="#141414" stroke="#141414" stroke-width="0.35"><tspan font-style="italic">P</tspan> ≤ 0.0271</text>
<text x="290" y="491" font-size="9.6" textLength="47.9" lengthAdjust="spacingAndGlyphs" fill="#141414" stroke="#141414" stroke-width="0.35"><tspan font-style="italic">P</tspan> ≤ 0.0213</text>
<text x="449.6" y="480" font-size="9.6" textLength="47.3" lengthAdjust="spacingAndGlyphs" fill="#141414" stroke="#141414" stroke-width="0.35"><tspan font-style="italic">P</tspan> ≤ 0.0241</text>
<rect x="0" y="0" width="520" height="1.4" fill="#555"/>
<rect x="0" y="0" width="1.4" height="650" fill="#5a5a5a"/>
<rect x="518" y="0" width="1.1" height="650" fill="#6e6e6e"/>
<defs><linearGradient id="rg" x1="0" y1="0" x2="0" y2="1"><stop offset="0" stop-color="#f4f4f4"/><stop offset="1" stop-color="#909090"/></linearGradient></defs>
<rect x="519.1" y="0" width="0.9" height="650" fill="url(#rg)"/>
<rect x="0" y="647.9" width="520" height="1.2" fill="#777"/>
<rect x="0" y="649.1" width="520" height="0.9" fill="#a0a0a0"/>
</svg>
</body>
</html>
